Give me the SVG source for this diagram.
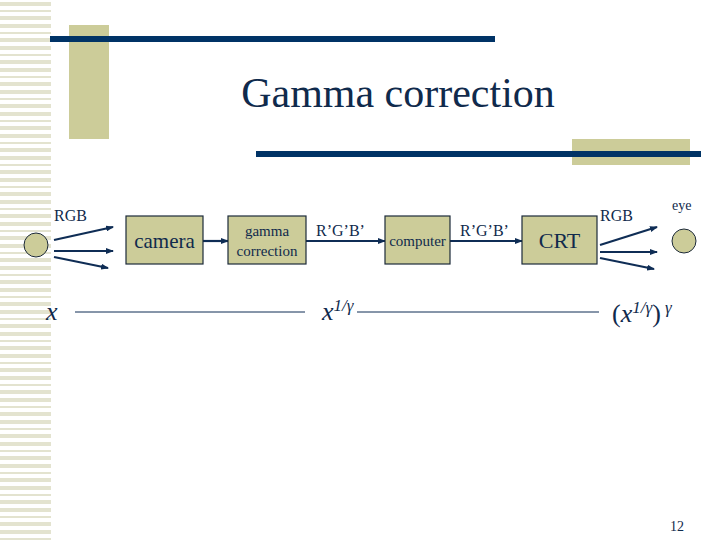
<svg xmlns="http://www.w3.org/2000/svg" width="720" height="540" viewBox="0 0 720 540">
<style>
text{font-family:"Liberation Serif","Times New Roman",Tinos,"DejaVu Serif",serif;fill:#102a4c}
.box{fill:#cccc99;stroke:#1c2a3a;stroke-width:1.2}
.c{stroke:#0f2d55;stroke-width:2.2;fill:none}
.l{stroke:#0f2d55;stroke-width:1}
</style>
<defs>
<marker id="ah" markerWidth="8" markerHeight="6" refX="7" refY="3" orient="auto" markerUnits="userSpaceOnUse"><path d="M0,0 L8,3 L0,6 Z" fill="#0f2d55"/></marker>
<pattern id="st" width="51" height="22" patternUnits="userSpaceOnUse"><rect width="51" height="22" fill="#fff"/><rect y="2" width="51" height="4" fill="#e3e3cf"/><rect y="10" width="51" height="2" fill="#e3e3cf"/><rect y="16" width="51" height="4" fill="#e3e3cf"/></pattern>
</defs>
<rect width="720" height="540" fill="#fff"/>
<rect x="0" y="0" width="51" height="540" fill="url(#st)"/>
<rect x="69" y="25" width="40" height="114" fill="#cccc99"/>
<rect x="50" y="36" width="445" height="6" fill="#003366"/>
<rect x="572" y="139" width="118" height="26" fill="#cccc99"/>
<rect x="256" y="151" width="445" height="6" fill="#003366"/>
<text x="398" y="107" font-size="42" text-anchor="middle">Gamma correction</text>
<g id="connectors">
<line class="c" x1="54" y1="240" x2="113" y2="227" marker-end="url(#ah)"/>
<line class="c" x1="54" y1="251" x2="113" y2="251" marker-end="url(#ah)"/>
<line class="c" x1="54" y1="257" x2="108" y2="268" marker-end="url(#ah)"/>
<line class="c" x1="203" y1="241" x2="228" y2="241" marker-end="url(#ah)"/>
<line class="c" x1="306" y1="241" x2="385" y2="241" marker-end="url(#ah)"/>
<line class="c" x1="450" y1="241" x2="522" y2="241" marker-end="url(#ah)"/>
<line class="c" x1="600" y1="245" x2="657" y2="227" marker-end="url(#ah)"/>
<line class="c" x1="600" y1="252" x2="657" y2="252" marker-end="url(#ah)"/>
<line class="c" x1="600" y1="258" x2="654" y2="269" marker-end="url(#ah)"/>
<line class="l" x1="75" y1="312" x2="305" y2="312"/>
<line class="l" x1="357" y1="312" x2="599" y2="312"/>
</g>
<g id="light"><circle cx="36" cy="245" r="12" fill="#cccc99" stroke="#1c2a3a"/><text x="54" y="221" font-size="16">RGB</text></g>
<g id="camera"><rect class="box" x="126" y="216" width="77" height="48"/><text x="164.5" y="248" font-size="21" text-anchor="middle">camera</text></g>
<g id="gamma"><rect class="box" x="228" y="216" width="78" height="48"/><text x="267" y="236" font-size="15" text-anchor="middle">gamma</text><text x="267" y="256" font-size="15" text-anchor="middle">correction</text></g>
<text x="316" y="236" font-size="16">R’G’B’</text>
<g id="computer"><rect class="box" x="385" y="216" width="65" height="48"/><text x="417.5" y="246" font-size="15" text-anchor="middle">computer</text></g>
<text x="460" y="236" font-size="16">R’G’B’</text>
<g id="crt"><rect class="box" x="522" y="216" width="75" height="48"/><text x="559.5" y="248" font-size="22" text-anchor="middle">CRT</text></g>
<text x="600" y="221" font-size="16">RGB</text>
<g id="eye"><circle cx="684" cy="241" r="12" fill="#cccc99" stroke="#1c2a3a"/><text x="672" y="210" font-size="14">eye</text></g>
<text x="46" y="320" font-size="26" font-style="italic">x</text>
<text x="322" y="320" font-size="26" font-style="italic">x<tspan font-size="17" dy="-9">1/γ</tspan></text>
<text x="612" y="322" font-size="26">(<tspan font-style="italic">x</tspan><tspan font-size="17" dy="-9" font-style="italic">1/γ</tspan><tspan dy="9">)</tspan><tspan font-size="17" dy="-9" font-style="italic"> γ</tspan></text>
<text x="670" y="531" font-size="14">12</text>
</svg>
